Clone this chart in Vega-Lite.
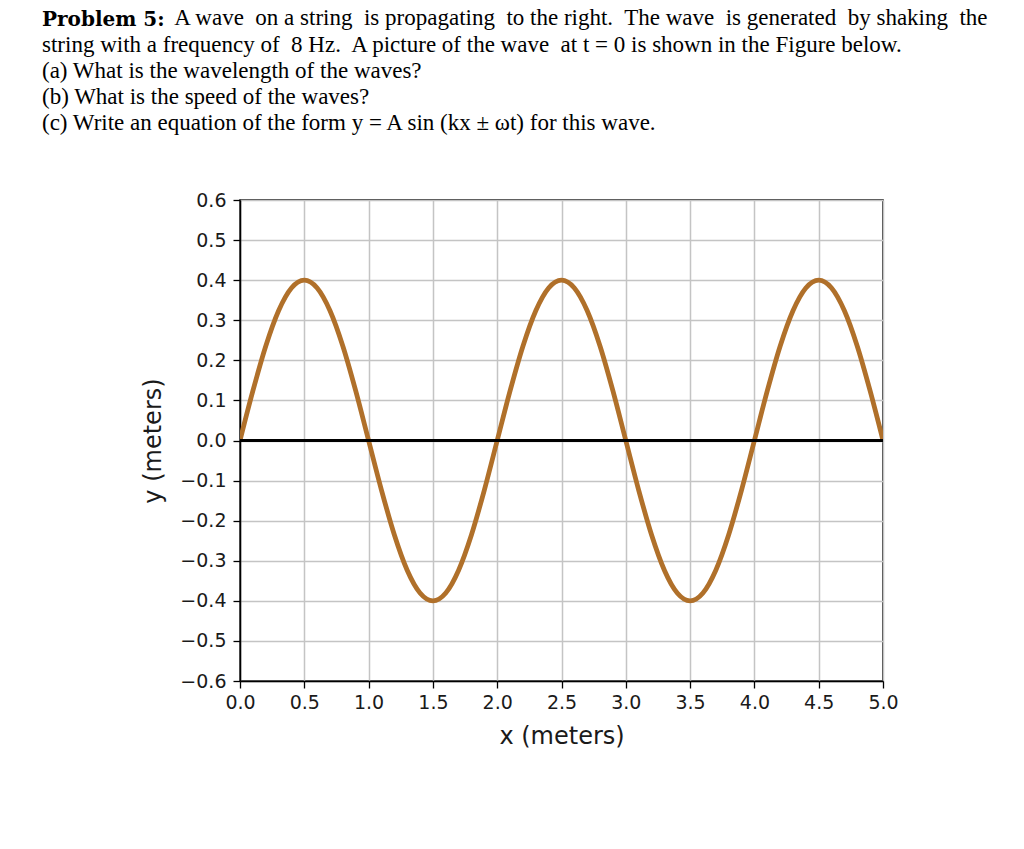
{
  "$schema": "https://vega.github.io/schema/vega-lite/v6.json",
  "autosize": {"type": "none"},
  "padding": {"left": 240, "top": 200, "right": 141, "bottom": 168},
  "width": 643,
  "height": 481,
  "background": "white",
  "title": {
    "text": "Problem 5:",
    "subtitle": [
      "\u200b\u00a0\u00a0\u00a0\u00a0\u00a0\u00a0\u00a0\u00a0\u00a0\u00a0\u00a0\u00a0\u00a0\u00a0\u00a0\u00a0\u00a0\u00a0\u00a0\u00a0\u00a0\u00a0\u00a0A wave\u00a0 on a string\u00a0 is propagating\u00a0 to the right.\u00a0 The wave\u00a0 is generated\u00a0 by shaking\u00a0 the",
      "string with a frequency of\u00a0 8 Hz.\u00a0 A picture of the wave\u00a0 at t = 0 is shown in the Figure below.",
      "(a) What is the wavelength of the waves?",
      "(b) What is the speed of the waves?",
      "(c) Write an equation of the form y = A sin (kx ± ωt) for this wave."
    ],
    "anchor": "start",
    "frame": "group",
    "dx": -198,
    "font": "DejaVu Serif",
    "fontSize": 20,
    "fontWeight": "bold",
    "color": "black",
    "subtitleFont": "Liberation Serif",
    "subtitleFontSize": 23,
    "subtitleColor": "black",
    "subtitleLineHeight": 26.3,
    "subtitlePadding": -22.5,
    "offset": 53
  },
  "config": {
    "view": {"stroke": "black", "strokeWidth": 1.5},
    "axis": {
      "labelFont": "DejaVu Sans",
      "labelFontSize": 19,
      "labelColor": "#1a1a1a",
      "labelFlush": false,
      "titleFont": "DejaVu Sans",
      "titleFontSize": 24,
      "titleFontWeight": "normal",
      "titleColor": "#1a1a1a",
      "domainColor": "black",
      "domainWidth": 1.5,
      "tickColor": "black",
      "tickWidth": 1.3,
      "tickSize": 7,
      "gridColor": "#c4c4c4",
      "gridWidth": 1.5
    }
  },
  "data": {
    "values": [
      {"x": 0.0, "y": 0.0}, {"x": 0.1, "y": 0.1236}, {"x": 0.2, "y": 0.2351}, {"x": 0.3, "y": 0.3236}, {"x": 0.4, "y": 0.3804},
      {"x": 0.5, "y": 0.4}, {"x": 0.6, "y": 0.3804}, {"x": 0.7, "y": 0.3236}, {"x": 0.8, "y": 0.2351}, {"x": 0.9, "y": 0.1236},
      {"x": 1.0, "y": 0.0}, {"x": 1.1, "y": -0.1236}, {"x": 1.2, "y": -0.2351}, {"x": 1.3, "y": -0.3236}, {"x": 1.4, "y": -0.3804},
      {"x": 1.5, "y": -0.4}, {"x": 1.6, "y": -0.3804}, {"x": 1.7, "y": -0.3236}, {"x": 1.8, "y": -0.2351}, {"x": 1.9, "y": -0.1236},
      {"x": 2.0, "y": 0.0}, {"x": 2.1, "y": 0.1236}, {"x": 2.2, "y": 0.2351}, {"x": 2.3, "y": 0.3236}, {"x": 2.4, "y": 0.3804},
      {"x": 2.5, "y": 0.4}, {"x": 2.6, "y": 0.3804}, {"x": 2.7, "y": 0.3236}, {"x": 2.8, "y": 0.2351}, {"x": 2.9, "y": 0.1236},
      {"x": 3.0, "y": 0.0}, {"x": 3.1, "y": -0.1236}, {"x": 3.2, "y": -0.2351}, {"x": 3.3, "y": -0.3236}, {"x": 3.4, "y": -0.3804},
      {"x": 3.5, "y": -0.4}, {"x": 3.6, "y": -0.3804}, {"x": 3.7, "y": -0.3236}, {"x": 3.8, "y": -0.2351}, {"x": 3.9, "y": -0.1236},
      {"x": 4.0, "y": 0.0}, {"x": 4.1, "y": 0.1236}, {"x": 4.2, "y": 0.2351}, {"x": 4.3, "y": 0.3236}, {"x": 4.4, "y": 0.3804},
      {"x": 4.5, "y": 0.4}, {"x": 4.6, "y": 0.3804}, {"x": 4.7, "y": 0.3236}, {"x": 4.8, "y": 0.2351}, {"x": 4.9, "y": 0.1236},
      {"x": 5.0, "y": 0.0}
    ]
  },
  "layer": [
    {
      "mark": {"type": "line", "color": "#b0702a", "strokeWidth": 4.8, "interpolate": "monotone", "clip": true},
      "encoding": {
        "x": {
          "field": "x", "type": "quantitative",
          "scale": {"domain": [0, 5], "nice": false, "zero": false},
          "axis": {"values": [0, 0.5, 1, 1.5, 2, 2.5, 3, 3.5, 4, 4.5, 5], "format": ".1f", "title": "x (meters)", "labelPadding": 5, "titlePadding": 12, "grid": true}
        },
        "y": {
          "field": "y", "type": "quantitative",
          "scale": {"domain": [-0.6, 0.6], "nice": false, "zero": false},
          "axis": {"values": [-0.6, -0.5, -0.4, -0.3, -0.2, -0.1, 0, 0.1, 0.2, 0.3, 0.4, 0.5, 0.6], "format": ".1f", "title": "y (meters)", "labelPadding": 7, "titlePadding": 14, "grid": true}
        }
      }
    },
    {
      "mark": {"type": "rule", "color": "black", "strokeWidth": 3},
      "encoding": {"y": {"datum": 0}}
    }
  ]
}
